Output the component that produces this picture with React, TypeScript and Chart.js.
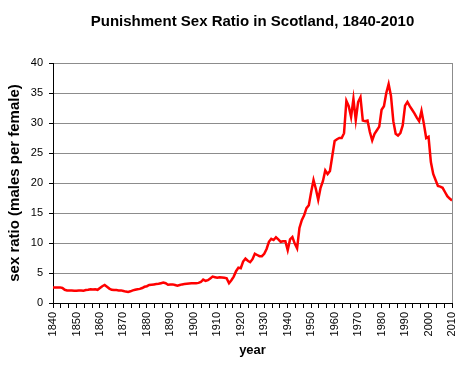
import React, { useEffect, useRef } from "react";
import { Chart, registerables } from "chart.js";

Chart.register(...registerables);

const START_YEAR = 1840;
const END_YEAR = 2010;
const years: number[] = Array.from({ length: END_YEAR - START_YEAR + 1 }, (_, i) => START_YEAR + i);

// Punishment sex ratio (males per female), one value per year 1840-2010
const ratio1840s = [2.6, 2.6, 2.6, 2.6, 2.5, 2.2, 2.1, 2.1, 2.1, 2.05];
const ratio1850s = [2.05, 2.1, 2.1, 2.05, 2.15, 2.2, 2.3, 2.25, 2.3, 2.2];
const ratio1860s = [2.5, 2.8, 3.0, 2.7, 2.4, 2.2, 2.15, 2.15, 2.1, 2.1];
const ratio1870s = [2.0, 1.9, 1.85, 1.95, 2.1, 2.2, 2.3, 2.35, 2.5, 2.7];
const ratio1880s = [2.8, 3.0, 3.05, 3.1, 3.15, 3.2, 3.3, 3.4, 3.3, 3.05];
const ratio1890s = [3.1, 3.1, 3.0, 2.9, 3.0, 3.1, 3.15, 3.2, 3.25, 3.3];
const ratio1900s = [3.3, 3.3, 3.35, 3.5, 3.9, 3.7, 3.8, 4.1, 4.4, 4.3];
const ratio1910s = [4.2, 4.3, 4.25, 4.2, 4.1, 3.3, 3.8, 4.4, 5.3, 5.9];
const ratio1920s = [5.8, 6.9, 7.4, 7.05, 6.8, 7.3, 8.2, 8.0, 7.8, 7.8];
const ratio1930s = [8.2, 9.0, 10.2, 10.7, 10.5, 10.95, 10.6, 10.2, 10.3, 10.3];
const ratio1940s = [8.8, 10.6, 11.0, 9.9, 9.1, 12.5, 13.8, 14.6, 15.8, 16.3];
const ratio1950s = [18.5, 20.5, 19.0, 17.2, 19.2, 20.3, 22.1, 21.5, 22.0, 24.5];
const ratio1960s = [27.0, 27.3, 27.5, 27.5, 28.3, 33.7, 32.8, 31.0, 34.0, 30.5];
const ratio1970s = [33.5, 34.3, 30.4, 30.3, 30.4, 28.5, 27.1, 28.2, 28.8, 29.4];
const ratio1980s = [32.2, 32.8, 35.0, 36.5, 34.5, 30.3, 28.2, 27.9, 28.3, 29.6];
const ratio1990s = [32.9, 33.5, 32.8, 32.2, 31.6, 30.9, 30.3, 32.0, 29.9, 27.5];
const ratio2000s = [27.7, 23.5, 21.5, 20.5, 19.5, 19.4, 19.2, 18.5, 17.8, 17.4, 17.1];

const sexRatio: number[] = [
  ...ratio1840s, ...ratio1850s, ...ratio1860s, ...ratio1870s, ...ratio1880s,
  ...ratio1890s, ...ratio1900s, ...ratio1910s, ...ratio1920s, ...ratio1930s,
  ...ratio1940s, ...ratio1950s, ...ratio1960s, ...ratio1970s, ...ratio1980s,
  ...ratio1990s, ...ratio2000s,
];

const TITLE = "Punishment Sex Ratio in Scotland, 1840-2010";
const X_TITLE = "year";
const Y_TITLE = "sex ratio (males per female)";
const Y_MIN = 0;
const Y_MAX = 40;
const Y_STEP = 5;
const X_LABEL_STEP = 10;
const X_TICK_STEP = 10 / 3;

const FONT = "'Liberation Sans', Arial, Helvetica, sans-serif";

const frameRight = {
  id: "frameRight",
  beforeDatasetsDraw(chart: any) {
    const { ctx, chartArea } = chart;
    ctx.save();
    ctx.strokeStyle = "#8c8c8c";
    ctx.lineWidth = 1;
    ctx.beginPath();
    ctx.moveTo(Math.round(chartArea.right) + 0.5, chartArea.top);
    ctx.lineTo(Math.round(chartArea.right) + 0.5, chartArea.bottom);
    ctx.stroke();
    ctx.restore();
  },
};

export default function App() {
  const canvasRef = useRef<HTMLCanvasElement | null>(null);

  useEffect(() => {
    document.body.style.margin = "0";
    const canvas = canvasRef.current;
    if (!canvas) return;
    const chart = new Chart(canvas, {
      type: "line",
      data: {
        labels: years,
        datasets: [
          {
            data: sexRatio,
            borderColor: "#ff0000",
            borderWidth: 2.5,
            pointRadius: 0,
            tension: 0,
            fill: false,
          },
        ],
      },
      options: {
        responsive: false,
        animation: false,
        layout: { padding: { left: 0, right: 22, top: 0, bottom: 0 } },
        plugins: {
          legend: { display: false },
          tooltip: { enabled: false },
          title: {
            display: true,
            text: TITLE,
            fullSize: false,
            color: "#000",
            font: { family: FONT, size: 15, weight: "bold" },
            padding: { top: 13, bottom: 32 },
          },
        },
        scales: {
          x: {
            type: "linear",
            min: START_YEAR,
            max: END_YEAR,
            afterBuildTicks: (scale: any) => {
              const t: any[] = [];
              const n = Math.round((END_YEAR - START_YEAR) / X_TICK_STEP);
              for (let k = 0; k <= n; k++) t.push({ value: START_YEAR + k * X_TICK_STEP });
              scale.ticks = t;
            },
            afterFit: (scale: any) => {
              scale.height = 63;
            },
            ticks: {
              autoSkip: false,
              minRotation: 90,
              maxRotation: 90,
              padding: 4,
              color: "#000",
              font: { family: FONT, size: 11 },
              callback: (value: any) => {
                const v = Number(value);
                const r = Math.round(v);
                return Math.abs(v - r) < 0.01 && r % X_LABEL_STEP === 0 ? String(r) : "";
              },
            },
            grid: {
              drawOnChartArea: false,
              drawTicks: true,
              tickLength: 5,
              color: "#000",
              tickColor: "#000",
            },
            border: { display: true, color: "#000", width: 1 },
            title: {
              display: true,
              text: X_TITLE,
              color: "#000",
              font: { family: FONT, size: 13, weight: "bold" },
              padding: { top: 0, bottom: 8 },
            },
          },
          y: {
            min: Y_MIN,
            max: Y_MAX,
            afterFit: (scale: any) => {
              scale.width = 53;
            },
            ticks: {
              stepSize: Y_STEP,
              padding: 6,
              color: "#000",
              font: { family: FONT, size: 11 },
            },
            grid: {
              color: "#8c8c8c",
              tickColor: "#000",
              tickLength: 4,
              lineWidth: 1,
            },
            border: { display: true, color: "#000", width: 1 },
            title: {
              display: true,
              text: Y_TITLE,
              color: "#000",
              font: { family: FONT, size: 15, weight: "bold" },
              padding: { top: 6, bottom: 0 },
            },
          },
        },
      },
      plugins: [frameRight],
    });
    return () => chart.destroy();
  }, []);

  return (
    <div style={{ width: 474, height: 366 }}>
      <canvas ref={canvasRef} width={474} height={366} style={{ display: "block" }} />
    </div>
  );
}
